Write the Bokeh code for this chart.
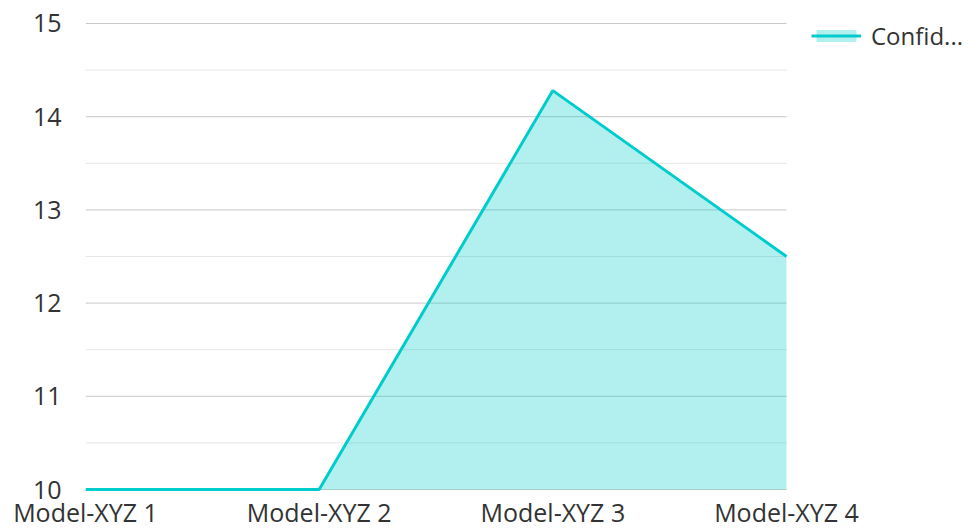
from bokeh.plotting import figure
from bokeh.models import Range1d, FixedTicker, Legend, LegendItem, ColumnDataSource
from bokeh.embed import file_html
from bokeh.resources import INLINE

categories = ["Model-XYZ 1", "Model-XYZ 2", "Model-XYZ 3", "Model-XYZ 4"]
confidence = [10, 10, 14.28, 12.5]
y_ticks = [10, 11, 12, 13, 14, 15]
y_minor_ticks = [10.5, 11.5, 12.5, 13.5, 14.5]
series_name = "Confid..."
baseline = 10

xs = list(range(len(categories)))
source = ColumnDataSource(dict(x=xs, y=confidence, base=[baseline] * len(xs)))

FONT = "Open Sans"
TEXT = "#333333"
TEAL = "#00CCCC"

# pixel layout: value 15 at y=23, value 10 at y=490; plot area x 85..786, legend to the right
W, H = 968, 531
left_px, right_px, top_px, bottom_px = 85, 786, 23, 490
pad_top, pad_bottom = 1, 2
px_per_unit = (bottom_px - top_px) / (y_ticks[-1] - y_ticks[0])
px_per_cat = (right_px - left_px) / (xs[-1] - xs[0])
y_start = y_ticks[0] - pad_bottom / px_per_unit
y_end = y_ticks[-1] + pad_top / px_per_unit
x_end = xs[-1] + (W - right_px) / px_per_cat

p = figure(width=W, height=H, output_backend="svg", toolbar_location=None,
           x_range=Range1d(xs[0], x_end), y_range=Range1d(y_start, y_end),
           min_border_left=left_px, min_border_right=0, min_border_top=top_px - pad_top,
           min_border_bottom=H - bottom_px - pad_bottom)
p.outline_line_color = None
p.background_fill_color = "white"
p.border_fill_color = "white"

# horizontal grid lines spanning the category extent only
n_maj, n_min = len(y_ticks), len(y_minor_ticks)
p.segment(x0=[xs[0]] * n_min, x1=[xs[-1]] * n_min, y0=y_minor_ticks, y1=y_minor_ticks,
          line_color="#e6e6e6", line_width=1)
p.segment(x0=[xs[0]] * n_maj, x1=[xs[-1]] * n_maj, y0=y_ticks, y1=y_ticks,
          line_color="#c8c8c8", line_width=1)

area = p.varea(x="x", y1="base", y2="y", source=source, fill_color=TEAL, fill_alpha=0.3)
line = p.line("x", "y", source=source, line_color=TEAL, line_width=3)

# axes
p.xaxis.ticker = FixedTicker(ticks=xs)
p.xaxis.major_label_overrides = {i: c for i, c in zip(xs, categories)}
p.yaxis.ticker = FixedTicker(ticks=y_ticks)
for ax in (p.xaxis, p.yaxis):
    ax.axis_line_color = None
    ax.major_tick_line_color = None
    ax.minor_tick_line_color = None
    ax.major_tick_out = 0
    ax.major_tick_in = 0
    ax.minor_tick_out = 0
    ax.minor_tick_in = 0
    ax.major_label_text_font = FONT
    ax.major_label_text_font_size = "25px"
    ax.major_label_text_color = TEXT
p.xaxis.major_label_standoff = 3
p.yaxis.major_label_standoff = 24
p.xgrid.grid_line_color = None
p.ygrid.grid_line_color = None

legend = Legend(items=[LegendItem(label=series_name, renderers=[area, line])],
                location=(811 - left_px, 439), padding=0, margin=0, spacing=0,
                glyph_width=50, glyph_height=15, label_standoff=10,
                label_text_font=FONT, label_text_font_size="24px", label_text_color=TEXT,
                border_line_color=None, background_fill_alpha=0)
p.add_layout(legend, "center")

open("out.html", "w").write(file_html(p, INLINE))
